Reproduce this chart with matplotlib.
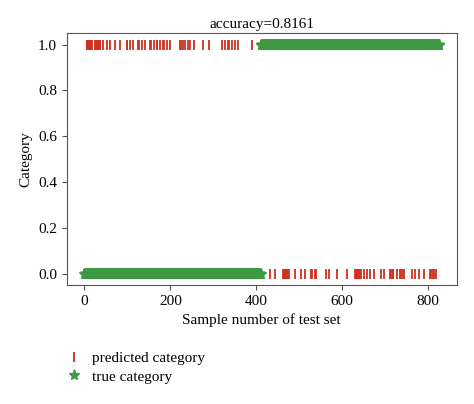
import numpy as np
import matplotlib
matplotlib.use("Agg")
import matplotlib.pyplot as plt

plt.rcParams["font.family"] = ["Liberation Serif", "DejaVu Serif"]

# test set size and where the true class switches from 0 to 1
n_samples = 826
split_index = 411

# misclassified samples
wrong_as_1 = [5, 6, 7, 8, 9, 10, 11, 12, 13, 14, 15, 16, 17,
              25, 26, 27, 28, 29, 30, 31, 32, 33, 34, 35, 36, 37,
              44, 52, 60, 71, 83, 98, 100, 106, 114, 125, 127, 134, 141,
              152, 154, 161, 168, 170, 176, 184, 186, 192, 200,
              222, 224, 229, 234, 240, 246, 254, 277, 289,
              320, 327, 335, 337, 343, 350, 358, 390]
wrong_as_0 = [432, 444, 462, 464, 466, 468, 470, 472, 474, 476,
              491, 503, 514, 528, 530, 536, 538, 561, 568, 588, 611,
              629, 631, 633, 635, 637, 639, 641, 643, 650, 658, 665, 673,
              689, 696, 711, 713, 717, 719, 727, 734, 736, 742, 744,
              762, 770, 778, 789, 804, 806, 810, 814, 817]

true_cat = np.zeros(n_samples)
true_cat[split_index:] = 1
pred_cat = true_cat.copy()
pred_cat[wrong_as_1] = 1
pred_cat[wrong_as_0] = 0

idx = np.arange(n_samples)

fig = plt.figure(figsize=(4.74, 4.04), dpi=100)
ax = fig.add_axes([0.1407, 0.2946, 0.8228, 0.623])

ax.plot(idx, pred_cat, linestyle="none", marker="|", markersize=7.5,
        markeredgewidth=1.3, color="#d0301f", label="predicted category")
ax.plot(idx, true_cat, linestyle="none", marker="*", markersize=8,
        color="#3d9a42", label="true category")

ax.set_title("accuracy=0.8161", fontsize=11, pad=4)
ax.set_xlabel("Sample number of test set", fontsize=11)
ax.set_ylabel("Category", fontsize=11)
ax.set_xticks([0, 200, 400, 600, 800])
ax.set_yticks([0.0, 0.2, 0.4, 0.6, 0.8, 1.0])
ax.tick_params(labelsize=11, length=3.5, color="#555555")
for sp in ax.spines.values():
    sp.set_color("#555555")

handles, labels = ax.get_legend_handles_labels()
fig.legend(handles, labels, loc="upper left", bbox_to_anchor=(0.12, 0.145),
           frameon=False, fontsize=11, handletextpad=0.4, labelspacing=0.3,
           handlelength=1.5, borderaxespad=0)

fig.savefig("out.png", dpi=100)
